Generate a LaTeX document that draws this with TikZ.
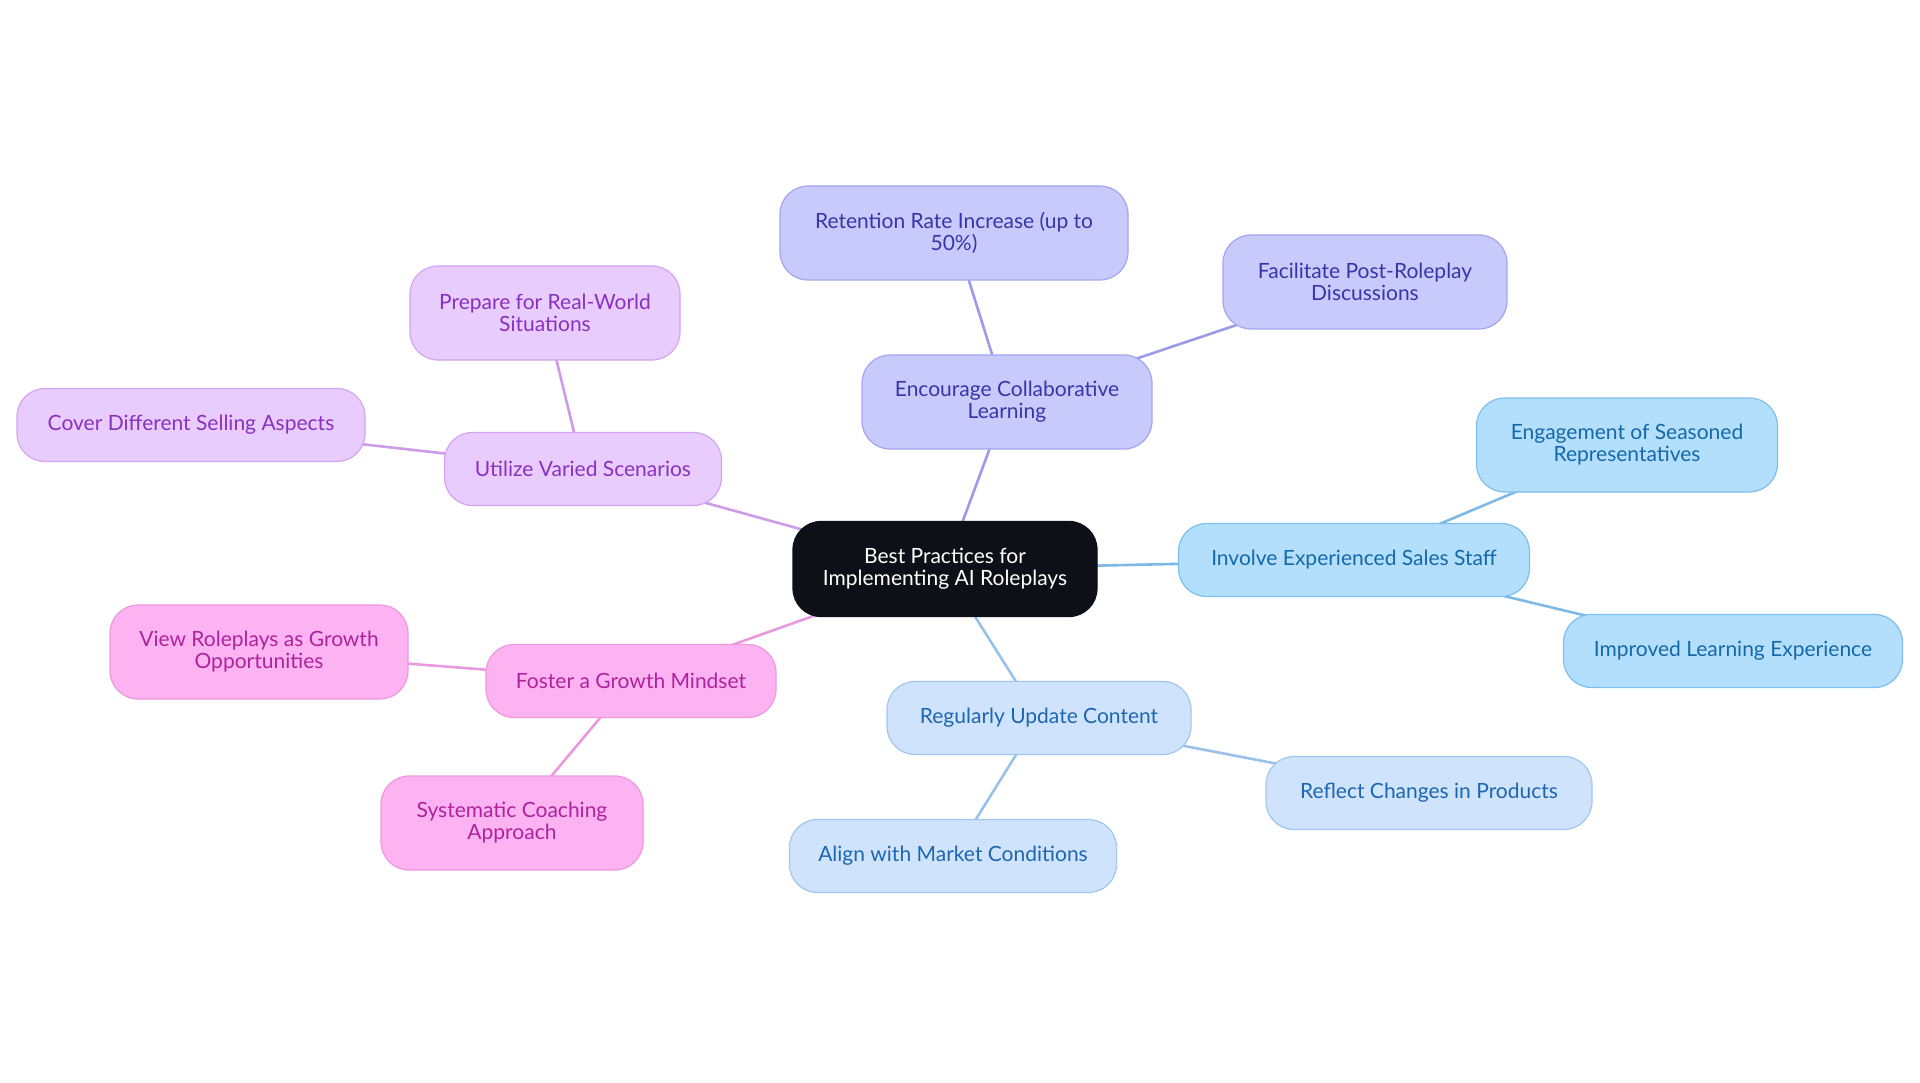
\documentclass[tikz,border=0pt]{standalone}
\usepackage{fontspec}
\setmainfont{Lato}
\usetikzlibrary{backgrounds}
\definecolor{rootfill}{HTML}{0D1117}
\definecolor{pbFill}{HTML}{C8CAFC}
\definecolor{pbDraw}{HTML}{A3A5EE}
\definecolor{pbText}{HTML}{3835A8}
\definecolor{pbLine}{HTML}{9C9CE6}
\definecolor{lvFill}{HTML}{E9CCFE}
\definecolor{lvDraw}{HTML}{D4A4F0}
\definecolor{lvText}{HTML}{8A30BE}
\definecolor{lvLine}{HTML}{CE9AEA}
\definecolor{pkFill}{HTML}{FDB3F1}
\definecolor{pkDraw}{HTML}{EE98E0}
\definecolor{pkText}{HTML}{AE229E}
\definecolor{pkLine}{HTML}{E99ADF}
\definecolor{lbFill}{HTML}{B3DEFC}
\definecolor{lbDraw}{HTML}{7DC0EE}
\definecolor{lbText}{HTML}{1469A8}
\definecolor{lbLine}{HTML}{7DB8E6}
\definecolor{pbuFill}{HTML}{CFE4FC}
\definecolor{pbuDraw}{HTML}{A1C7F0}
\definecolor{pbuText}{HTML}{1D66B0}
\definecolor{pbuLine}{HTML}{98C2EA}
\tikzset{
  box/.style={rectangle, rounded corners=28pt, line width=1.2pt, align=center,
    inner sep=0pt, font=\fontsize{21}{22}\selectfont},
  rootbox/.style={box, fill=rootfill, draw=rootfill, text=white},
  pbbox/.style={box, fill=pbFill, draw=pbDraw, text=pbText},
  lvbox/.style={box, fill=lvFill, draw=lvDraw, text=lvText},
  pkbox/.style={box, fill=pkFill, draw=pkDraw, text=pkText},
  lbbox/.style={box, fill=lbFill, draw=lbDraw, text=lbText},
  pbubox/.style={box, fill=pbuFill, draw=pbuDraw, text=pbuText},
  link/.style={line width=2.6pt},
}
\begin{document}
\begin{tikzpicture}[x=1pt,y=-1pt]
\useasboundingbox (0,0) rectangle (1920,1083);
% nodes
\node[rootbox, minimum width=304pt, minimum height=95pt] (root) at (945,569) {Best Practices for\\Implementing AI Roleplays};

\node[pbbox, minimum width=290pt, minimum height=94pt] (enc) at (1007,402) {Encourage Collaborative\\Learning};
\node[pbbox, minimum width=348pt, minimum height=94pt] (ret) at (954,233) {Retention Rate Increase (up to\\50\%)};
\node[pbbox, minimum width=284pt, minimum height=94pt] (fac) at (1365,282) {Facilitate Post-Roleplay\\Discussions};

\node[lbbox, minimum width=351pt, minimum height=73pt] (inv) at (1354,560) {Involve Experienced Sales Staff};
\node[lbbox, minimum width=301pt, minimum height=94pt] (eng) at (1627,445) {Engagement of Seasoned\\Representatives};
\node[lbbox, minimum width=339pt, minimum height=73pt] (imp) at (1733,651) {Improved Learning Experience};

\node[pbubox, minimum width=304pt, minimum height=73pt] (reg) at (1039,718) {Regularly Update Content};
\node[pbubox, minimum width=326pt, minimum height=73pt] (ref) at (1429,793) {Reflect Changes in Products};
\node[pbubox, minimum width=327pt, minimum height=73pt] (ali) at (953,856) {Align with Market Conditions};

\node[pkbox, minimum width=290pt, minimum height=73pt] (fos) at (631,681) {Foster a Growth Mindset};
\node[pkbox, minimum width=298pt, minimum height=94pt] (vie) at (259,652) {View Roleplays as Growth\\Opportunities};
\node[pkbox, minimum width=262pt, minimum height=94pt] (sys) at (512,823) {Systematic Coaching\\Approach};

\node[lvbox, minimum width=277pt, minimum height=73pt] (uti) at (583,469) {Utilize Varied Scenarios};
\node[lvbox, minimum width=348pt, minimum height=73pt] (cov) at (191,425) {Cover Different Selling Aspects};
\node[lvbox, minimum width=270pt, minimum height=94pt] (pre) at (545,313) {Prepare for Real-World\\Situations};

% connectors (center to center, behind the boxes)
\begin{scope}[on background layer]
\draw[link, pbLine] (root.center) -- (enc.center);
\draw[link, pbLine] (enc.center) -- (ret.center);
\draw[link, pbLine] (enc.center) -- (fac.center);
\draw[link, lbLine] (root.center) -- (inv.center);
\draw[link, lbLine] (inv.center) -- (eng.center);
\draw[link, lbLine] (inv.center) -- (imp.center);
\draw[link, pbuLine] (root.center) -- (reg.center);
\draw[link, pbuLine] (reg.center) -- (ref.center);
\draw[link, pbuLine] (reg.center) -- (ali.center);
\draw[link, pkLine] (root.center) -- (fos.center);
\draw[link, pkLine] (fos.center) -- (vie.center);
\draw[link, pkLine] (fos.center) -- (sys.center);
\draw[link, lvLine] (root.center) -- (uti.center);
\draw[link, lvLine] (uti.center) -- (cov.center);
\draw[link, lvLine] (uti.center) -- (pre.center);
\end{scope}
\end{tikzpicture}
\end{document}
